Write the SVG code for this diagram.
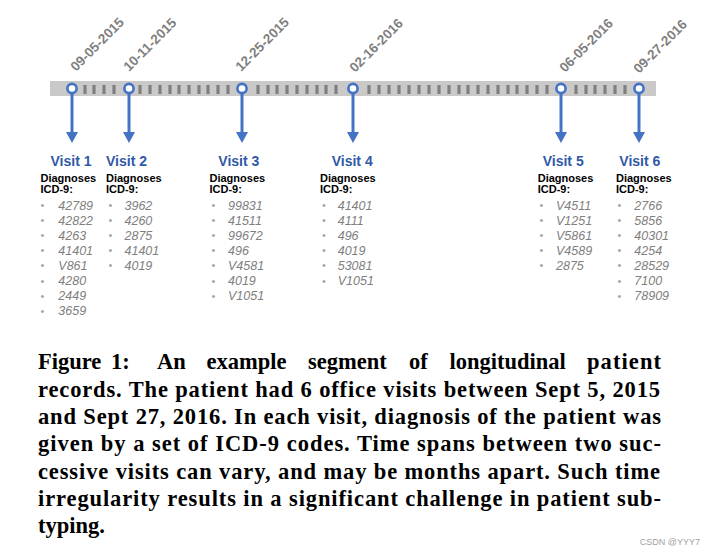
<svg xmlns="http://www.w3.org/2000/svg" width="714" height="555" viewBox="0 0 714 555">
<style>
.date{font-family:"Liberation Sans",Arial,sans-serif;font-weight:bold;font-size:13.5px;fill:#7f7f7f}
.visit{font-family:"Liberation Sans",Arial,sans-serif;font-weight:bold;font-size:14px;fill:#3059a8}
.diag{font-family:"Liberation Sans",Arial,sans-serif;font-weight:bold;font-size:11px;fill:#000}
.code{font-family:"Liberation Sans",Arial,sans-serif;font-style:italic;font-size:12.5px;fill:#808080}
.bul{font-family:"Liberation Sans",Arial,sans-serif;font-size:11px;fill:#a6a6a6}
.dot{fill:#fff;stroke:#4472c4;stroke-width:2.6}
.conn{stroke:#4472c4;stroke-width:3;fill:none;marker-end:url(#ah)}
.cap{font-family:"Liberation Serif","Times New Roman",serif;font-weight:bold;font-size:22.5px;fill:#000}
</style>
<defs>
<marker id="ah" viewBox="0 0 11 12" markerWidth="11" markerHeight="12" markerUnits="userSpaceOnUse" refX="0" refY="6" orient="auto">
<path d="M0,0 L11,6 L0,12 z" fill="#4472c4"/>
</marker>
</defs>
<rect width="714" height="555" fill="#fff"/>
<g id="timeline">
<rect x="50" y="81" width="606" height="15" fill="#c9c9c9"/>
<path stroke="#7f7f7f" stroke-width="3.2" d="M85,85v9M94,85v9M104,85v9M114,85v9M140,85v9M150,85v9M160,85v9M170,85v9M179,85v9M189,85v9M199,85v9M208,85v9M218,85v9M228,85v9M258,85v9M268,85v9M277,85v9M287,85v9M297,85v9M307,85v9M317,85v9M326,85v9M336,85v9M369,85v9M379,85v9M389,85v9M399,85v9M409,85v9M419,85v9M429,85v9M439,85v9M449,85v9M459,85v9M468,85v9M478,85v9M488,85v9M498,85v9M508,85v9M517,85v9M527,85v9M537,85v9M547,85v9M576,85v9M586,85v9M595,85v9M605,85v9M615,85v9M625,85v9"/>
</g>
<g id="connectors">
<line class="conn" x1="72" y1="93" x2="72" y2="132"/>
<line class="conn" x1="129" y1="93" x2="129" y2="132"/>
<line class="conn" x1="242" y1="93" x2="242" y2="132"/>
<line class="conn" x1="353" y1="93" x2="353" y2="132"/>
<line class="conn" x1="561" y1="93" x2="561" y2="132"/>
<line class="conn" x1="639" y1="93" x2="639" y2="132"/>
</g>
<g id="visit1">
<circle class="dot" cx="72" cy="88.5" r="4.6"/>
<text class="date" x="76" y="72" transform="rotate(-45 76 72)">09-05-2015</text>
<text class="visit" x="50.5" y="166">Visit 1</text>
<text class="diag" x="40.5" y="181.7">Diagnoses</text>
<text class="diag" x="40.5" y="193.3">ICD-9:</text>
<g class="bul"><text x="40.5" y="209">•</text><text x="40.5" y="224">•</text><text x="40.5" y="239">•</text><text x="40.5" y="254">•</text><text x="40.5" y="269">•</text><text x="40.5" y="284.5">•</text><text x="40.5" y="299.5">•</text><text x="40.5" y="314.5">•</text></g>
<g class="code"><text x="58.3" y="209.5">42789</text><text x="58.3" y="224.6">42822</text><text x="58.3" y="239.7">4263</text><text x="58.3" y="254.8">41401</text><text x="58.3" y="269.9">V861</text><text x="58.3" y="285">4280</text><text x="58.3" y="300.1">2449</text><text x="58.3" y="315.2">3659</text></g>
</g>
<g id="visit2">
<circle class="dot" cx="129" cy="88.5" r="4.6"/>
<text class="date" x="129" y="72" transform="rotate(-45 129 72)">10-11-2015</text>
<text class="visit" x="106" y="166">Visit 2</text>
<text class="diag" x="106" y="181.7">Diagnoses</text>
<text class="diag" x="106" y="193.3">ICD-9:</text>
<g class="bul"><text x="108.5" y="209">•</text><text x="108.5" y="224">•</text><text x="108.5" y="239">•</text><text x="108.5" y="254">•</text><text x="108.5" y="269">•</text></g>
<g class="code"><text x="124.5" y="209.5">3962</text><text x="124.5" y="224.6">4260</text><text x="124.5" y="239.7">2875</text><text x="124.5" y="254.8">41401</text><text x="124.5" y="269.9">4019</text></g>
</g>
<g id="visit3">
<circle class="dot" cx="242" cy="88.5" r="4.6"/>
<text class="date" x="241" y="72" transform="rotate(-45 241 72)">12-25-2015</text>
<text class="visit" x="218.3" y="166">Visit 3</text>
<text class="diag" x="209.5" y="181.7">Diagnoses</text>
<text class="diag" x="209.5" y="193.3">ICD-9:</text>
<g class="bul"><text x="211.5" y="209">•</text><text x="211.5" y="224">•</text><text x="211.5" y="239">•</text><text x="211.5" y="254">•</text><text x="211.5" y="269">•</text><text x="211.5" y="284.5">•</text><text x="211.5" y="299.5">•</text></g>
<g class="code"><text x="228" y="209.5">99831</text><text x="228" y="224.6">41511</text><text x="228" y="239.7">99672</text><text x="228" y="254.8">496</text><text x="228" y="269.9">V4581</text><text x="228" y="285">4019</text><text x="228" y="300.1">V1051</text></g>
</g>
<g id="visit4">
<circle class="dot" cx="353" cy="88.5" r="4.6"/>
<text class="date" x="355" y="73" transform="rotate(-45 355 73)">02-16-2016</text>
<text class="visit" x="331.7" y="166">Visit 4</text>
<text class="diag" x="320" y="181.7">Diagnoses</text>
<text class="diag" x="320" y="193.3">ICD-9:</text>
<g class="bul"><text x="322" y="209">•</text><text x="322" y="224">•</text><text x="322" y="239">•</text><text x="322" y="254">•</text><text x="322" y="269">•</text><text x="322" y="284.5">•</text></g>
<g class="code"><text x="337.7" y="209.5">41401</text><text x="337.7" y="224.6">4111</text><text x="337.7" y="239.7">496</text><text x="337.7" y="254.8">4019</text><text x="337.7" y="269.9">53081</text><text x="337.7" y="285">V1051</text></g>
</g>
<g id="visit5">
<circle class="dot" cx="561" cy="88.5" r="4.6"/>
<text class="date" x="565" y="73" transform="rotate(-45 565 73)">06-05-2016</text>
<text class="visit" x="542.7" y="166">Visit 5</text>
<text class="diag" x="537.7" y="181.7">Diagnoses</text>
<text class="diag" x="537.7" y="193.3">ICD-9:</text>
<g class="bul"><text x="539.5" y="209">•</text><text x="539.5" y="224">•</text><text x="539.5" y="239">•</text><text x="539.5" y="254">•</text><text x="539.5" y="269">•</text></g>
<g class="code"><text x="556" y="209.5">V4511</text><text x="556" y="224.6">V1251</text><text x="556" y="239.7">V5861</text><text x="556" y="254.8">V4589</text><text x="556" y="269.9">2875</text></g>
</g>
<g id="visit6">
<circle class="dot" cx="639" cy="88.5" r="4.6"/>
<text class="date" x="639" y="74" transform="rotate(-45 639 74)">09-27-2016</text>
<text class="visit" x="619.3" y="166">Visit 6</text>
<text class="diag" x="616" y="181.7">Diagnoses</text>
<text class="diag" x="616" y="193.3">ICD-9:</text>
<g class="bul"><text x="617.5" y="209">•</text><text x="617.5" y="224">•</text><text x="617.5" y="239">•</text><text x="617.5" y="254">•</text><text x="617.5" y="269">•</text><text x="617.5" y="284.5">•</text><text x="617.5" y="299.5">•</text></g>
<g class="code"><text x="634.3" y="209.5">2766</text><text x="634.3" y="224.6">5856</text><text x="634.3" y="239.7">40301</text><text x="634.3" y="254.8">4254</text><text x="634.3" y="269.9">28529</text><text x="634.3" y="285">7100</text><text x="634.3" y="300.1">78909</text></g>
</g>
<g id="caption">
<text class="cap" y="369.3"><tspan x="38">Figure</tspan> <tspan x="111">1:</tspan> <tspan x="157">An</tspan> <tspan x="206.5">example</tspan> <tspan x="308">segment</tspan> <tspan x="409">of</tspan> <tspan x="449.5">longitudinal</tspan> <tspan x="587" textLength="74" lengthAdjust="spacing">patient</tspan></text>
<text class="cap" x="38" y="396.6" textLength="622" lengthAdjust="spacing">records. The patient had 6 office visits between Sept 5, 2015</text>
<text class="cap" x="38" y="423.9" textLength="623" lengthAdjust="spacing">and Sept 27, 2016. In each visit, diagnosis of the patient was</text>
<text class="cap" x="38" y="451.2" textLength="623" lengthAdjust="spacing">given by a set of ICD-9 codes. Time spans between two suc-</text>
<text class="cap" x="38" y="478.5" textLength="622" lengthAdjust="spacing">cessive visits can vary, and may be months apart. Such time</text>
<text class="cap" x="38" y="505.8" textLength="623" lengthAdjust="spacing">irregularity results in a significant challenge in patient sub-</text>
<text class="cap" x="38" y="533.1">typing.</text>
</g>
<text x="700" y="545" text-anchor="end" font-family="'Liberation Sans',Arial,sans-serif" font-size="9px" fill="#a0a0a0">CSDN @YYY7</text>
</svg>
